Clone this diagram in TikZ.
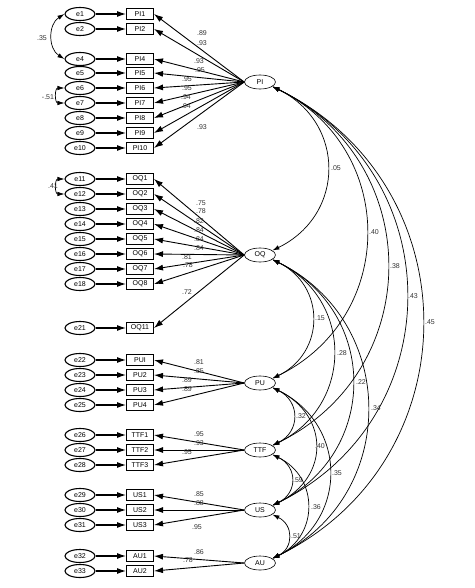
\documentclass[tikz,border=0pt]{standalone}
\usepackage{fontspec}
\setmainfont{Liberation Sans}
\usepackage{tikz}
\usetikzlibrary{arrows.meta,shapes}
\tikzstyle{err}=[ellipse,draw,line width=1.1pt,minimum width=30pt,minimum height=13pt,inner sep=0pt]
\tikzstyle{ind}=[rectangle,draw,line width=1pt,minimum width=27pt,minimum height=11pt,inner sep=0pt]
\tikzstyle{lat}=[ellipse,draw,line width=0.6pt,minimum width=31pt,minimum height=14pt,inner sep=0pt]
\tikzstyle{val}=[inner sep=0pt,text=black!80]
\tikzstyle{errarr}=[-{Latex[length=9pt,width=6pt]},line width=1.1pt]
\tikzstyle{load}=[-{Latex[length=9pt,width=6pt]},line width=0.9pt]
\tikzstyle{cov}=[{Latex[length=7pt,width=4.5pt]}-{Latex[length=7pt,width=4.5pt]},line width=0.7pt]

\begin{document}
\begin{tikzpicture}[x=1pt,y=-1pt,font=\fontsize{7}{8}\selectfont]
        \useasboundingbox (0,0) rectangle (474,588);
        \node at (260, 82) [lat] (PI) {PI};
        \node at (260,255) [lat] (OQ) {OQ};
        \node at (260,383) [lat] (PU) {PU};
        \node at (260,450) [lat] (TTF) {TTF};
        \node at (260,510) [lat] (US) {US};
        \node at (260,563) [lat] (AU) {AU};
        \foreach \e/\i/\t/\y in {e1/PI1/PI1/14,e2/PI2/PI2/29,e4/PI4/PI4/59,e5/PI5/PI5/73,
            e6/PI6/PI6/88,e7/PI7/PI7/103,e8/PI8/PI8/118,e9/PI9/PI9/133,e10/PI10/PI10/148,
            e11/OQ1/OQ1/179,e12/OQ2/OQ2/194,e13/OQ3/OQ3/209,e14/OQ4/OQ4/224,e15/OQ5/OQ5/239,
            e16/OQ6/OQ6/254,e17/OQ7/OQ7/269,e18/OQ8/OQ8/284,e21/OQ11/OQ11/328,
            e22/PU1/PUI/360,e23/PU2/PU2/375,e24/PU3/PU3/390,e25/PU4/PU4/405,
            e26/TTF1/TTF1/435,e27/TTF2/TTF2/450,e28/TTF3/TTF3/465,
            e29/US1/US1/495,e30/US2/US2/510,e31/US3/US3/525,
            e32/AU1/AU1/556,e33/AU2/AU2/571}{
          \node at (80,\y) [err] (\e) {\e};
          \node at (140,\y) [ind] (\i) {\t};
          \draw [errarr] (\e) -- (\i);
        }
        \foreach \l/\i/\v/\x/\y in {PI/PI1/.89/202/33,PI/PI2/.93/202/43,PI/PI4/.93/199/61,
            PI/PI5/.95/200/70,PI/PI6/.95/187/79,PI/PI7/.95/187/88,PI/PI8/.94/186/97,
            PI/PI9/.94/186/106,PI/PI10/.93/202/127,
            OQ/OQ1/.75/201/203,OQ/OQ2/.78/201/211,OQ/OQ3/.82/199/221,OQ/OQ4/.84/199/230,
            OQ/OQ5/.84/199/239,OQ/OQ6/.84/199/248,OQ/OQ7/.81/187/257,OQ/OQ8/.78/188/265,
            OQ/OQ11/.72/187/292,
            PU/PU1/.81/199/362,PU/PU2/.85/199/371,PU/PU3/.89/187/380,PU/PU4/.89/187/389,
            TTF/TTF1/.95/199/434,TTF/TTF2/.93/199/443,TTF/TTF3/.95/187/452,
            US/US1/.85/199/494,US/US2/.88/199/503,US/US3/.95/197/527,
            AU/AU1/.86/199/552,AU/AU2/.78/188/560}{
          \draw [load] (\l.west) -- (\i.east);
          \node at (\x,\y) [val] (w\i) {\v};
        }
        \foreach \a/\b/\s/\v/\x/\y in {PI/OQ/55/.05/336/168,PI/PU/94/.40/374/232,
            PI/TTF/115/.38/395/266,PI/US/134/.43/413/296,PI/AU/150/.45/430/322,
            OQ/PU/40/.15/320/318,OQ/TTF/61/.28/342/353,OQ/US/80/.22/361/382,
            OQ/AU/95/.34/376/408,PU/TTF/21/.32/301/416,PU/US/43/.40/320/446,
            PU/AU/57/.35/337/473,TTF/US/19/.59/298/480,TTF/AU/35/.36/316/507,
            US/AU/16/.51/296/536}{
          \draw [cov] (\a.-20) .. controls +({1.333*\s},{0.653*\s}) and +({1.333*\s},{-0.653*\s}) .. (\b.20);
          \node at (\x,\y) [val] (c\a\b) {\v};
        }
        \draw [cov,bend right=58,looseness=1.1] (e1.west) to (e4.west);
        \draw [cov,bend right=90,looseness=1.7] (e6.west) to (e7.west);
        \draw [cov,bend right=90,looseness=1.7] (e11.west) to (e12.west);
        \node at (42,38) [val] (ce1e4) {.35};
        \node at (48,97) [val] (ce6e7) {-.51};
        \node at (53,186) [val] (ce11e12) {.41};
      \end{tikzpicture}
\end{document}
